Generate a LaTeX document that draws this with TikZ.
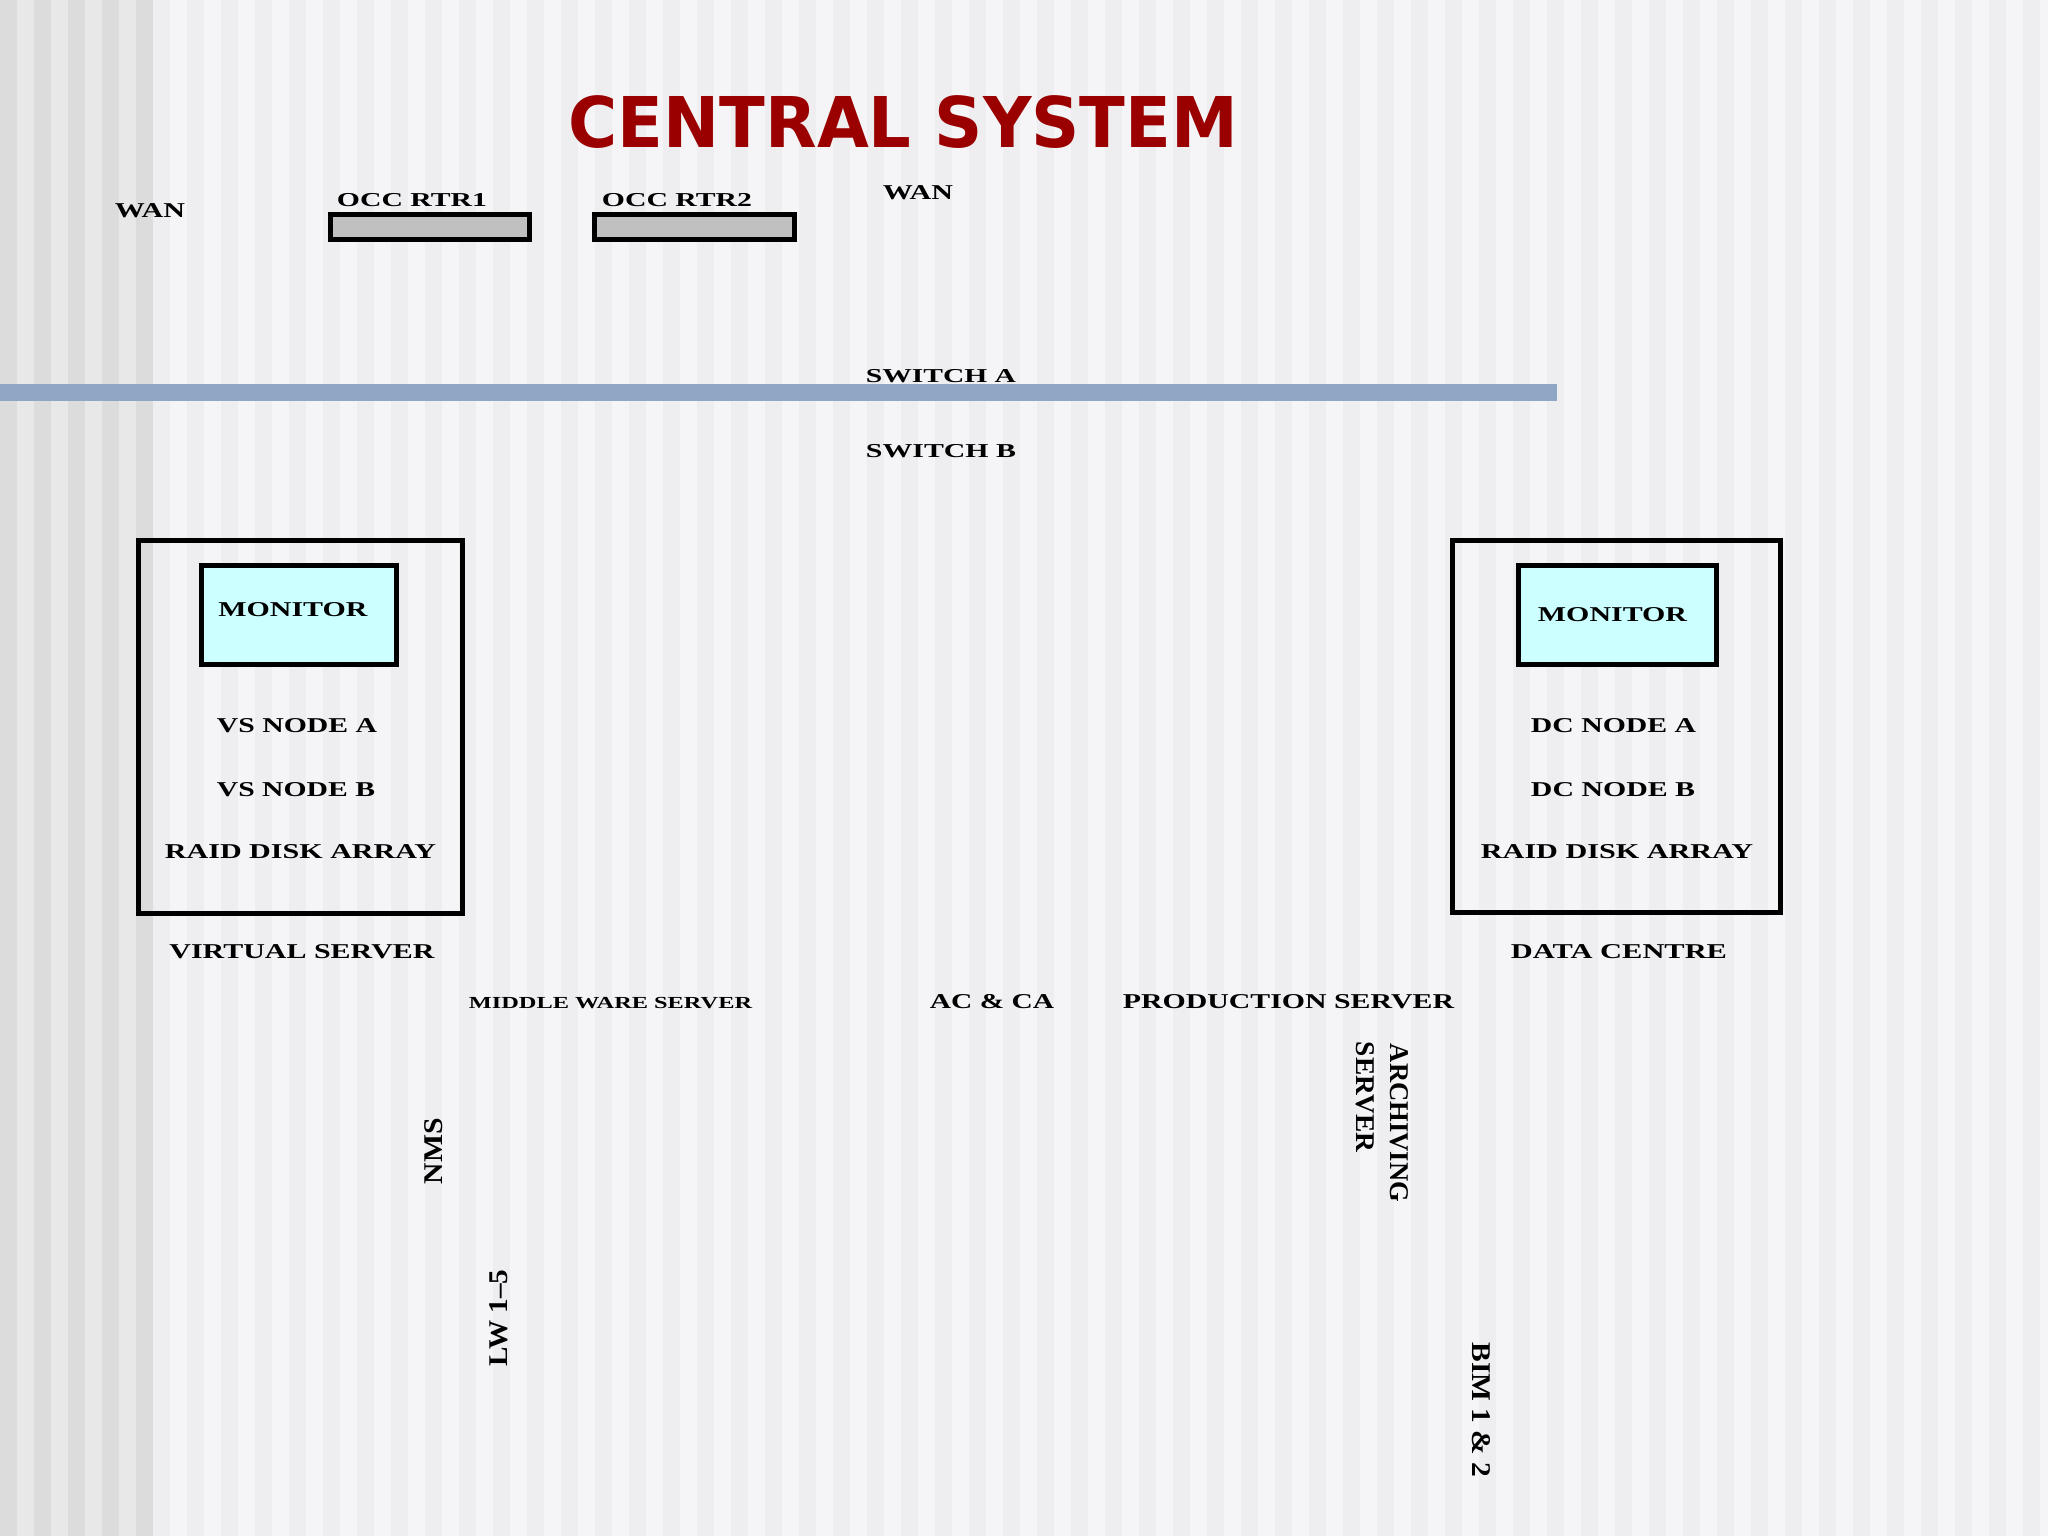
\documentclass[tikz,border=0pt]{standalone}
\usepackage{fontspec}
\usepackage{graphicx}
\setmainfont{Liberation Serif}
\newfontfamily\titlefont{DejaVu Sans}
\definecolor{titlered}{RGB}{155,0,0}
\definecolor{barblue}{RGB}{143,167,196}
\definecolor{monfill}{RGB}{204,255,255}
\definecolor{rtrfill}{RGB}{192,192,192}
\definecolor{bgbase}{RGB}{245,245,247}
\definecolor{bgstripe}{RGB}{238,238,241}
\definecolor{leftbase}{RGB}{232,232,232}
\definecolor{leftstripe}{RGB}{220,220,220}
\newcommand\tx[2]{\resizebox{#1}{\height}{#2}}
\tikzset{
  lbl/.style={inner sep=0pt, font=\bfseries\fontsize{5.6pt}{6pt}\selectfont},
  lblb/.style={inner sep=0pt, font=\bfseries\fontsize{6pt}{7pt}\selectfont},
  lbls/.style={inner sep=0pt, font=\bfseries\fontsize{4.8pt}{6pt}\selectfont},
  rot/.style={inner sep=0pt, font=\bfseries\fontsize{7.7pt}{9pt}\selectfont},
  framebox/.style={draw=black, line width=1.4pt, inner sep=0pt},
}
\begin{document}
\begin{tikzpicture}[x=0.01cm, y=-0.01cm]
\useasboundingbox (0,0) rectangle (2048,1536);
% background
\fill[bgbase] (0,0) rectangle (2048,1536);
\foreach \i in {0,...,60} {
  \fill[bgstripe] (\i*34+153,0) rectangle (\i*34+170,1536);
}
\fill[leftbase] (0,0) rectangle (153,1536);
\foreach \i in {0,...,4} {
  \fill[leftstripe] (\i*34,0) rectangle (\i*34+17,1536);
}
% title
\node[inner sep=0pt, text=titlered, font=\titlefont\bfseries\fontsize{19.9pt}{22pt}\selectfont] (title) at (903.5,122.5) {\tx{6.69cm}{CENTRAL SYSTEM}};
% WAN labels
\node[lblb] (wanL) at (150,211) {\tx{0.70cm}{WAN}};
\node[lblb] (wanR) at (918,193) {\tx{0.70cm}{WAN}};
% routers
\node[lbl] (rtr1lbl) at (412,200) {\tx{1.50cm}{OCC RTR1}};
\node[lbl] (rtr2lbl) at (677,200) {\tx{1.50cm}{OCC RTR2}};
\node[framebox, fill=rtrfill, minimum width=1.99cm, minimum height=0.25cm] (rtr1) at (430,227) {};
\node[framebox, fill=rtrfill, minimum width=2.00cm, minimum height=0.25cm] (rtr2) at (694.5,227) {};
% switch bar
\node[fill=barblue, inner sep=0pt, minimum width=15.57cm, minimum height=0.17cm] (bar) at (778.5,392.5) {};
\node[lbl] (swA) at (941,376) {\tx{1.50cm}{SWITCH A}};
\node[lbl] (swB) at (941,451) {\tx{1.50cm}{SWITCH B}};
% virtual server box
\node[framebox, minimum width=3.24cm, minimum height=3.73cm] (vsbox) at (300.5,727) {};
\node[framebox, fill=monfill, minimum width=1.95cm, minimum height=0.99cm] (vsmon) at (299,615) {};
\node[lblb] (vsmonlbl) at (293,610) {\tx{1.49cm}{MONITOR}};
\node[lblb] (vsa) at (297,726) {\tx{1.60cm}{VS NODE A}};
\node[lblb] (vsb) at (296,790) {\tx{1.58cm}{VS NODE B}};
\node[lblb] (vsraid) at (300.5,852) {\tx{2.71cm}{RAID DISK ARRAY}};
\node[lblb] (vslbl) at (302,952) {\tx{2.65cm}{VIRTUAL SERVER}};
% data centre box
\node[framebox, minimum width=3.28cm, minimum height=3.72cm] (dcbox) at (1616.5,726.5) {};
\node[framebox, fill=monfill, minimum width=1.98cm, minimum height=0.99cm] (dcmon) at (1617.5,615) {};
\node[lblb] (dcmonlbl) at (1612.5,615) {\tx{1.49cm}{MONITOR}};
\node[lblb] (dca) at (1613.5,726) {\tx{1.65cm}{DC NODE A}};
\node[lblb] (dcb) at (1613,790) {\tx{1.64cm}{DC NODE B}};
\node[lblb] (dcraid) at (1617,852) {\tx{2.72cm}{RAID DISK ARRAY}};
\node[lblb] (dclbl) at (1619,952) {\tx{2.16cm}{DATA CENTRE}};
% servers row
\node[lbls] (mws) at (610.5,1003) {\tx{2.83cm}{MIDDLE WARE SERVER}};
\node[lblb] (acca) at (992,1002) {\tx{1.24cm}{AC \& CA}};
\node[lblb] (prod) at (1288.5,1002) {\tx{3.31cm}{PRODUCTION SERVER}};
% rotated labels
\node[rot, rotate=-90] (arch) at (1399.5,1123) {\tx{1.58cm}{ARCHIVING}};
\node[rot, rotate=-90] (archsrv) at (1365,1097) {\tx{1.10cm}{SERVER}};
\node[rot, rotate=90] (nms) at (433.5,1151) {\tx{0.66cm}{NMS}};
\node[rot, rotate=90] (lw) at (499,1318) {\tx{0.97cm}{LW 1--5}};
\node[rot, rotate=-90] (bim) at (1481,1410) {\tx{1.35cm}{BIM 1 \& 2}};
\end{tikzpicture}
\end{document}
